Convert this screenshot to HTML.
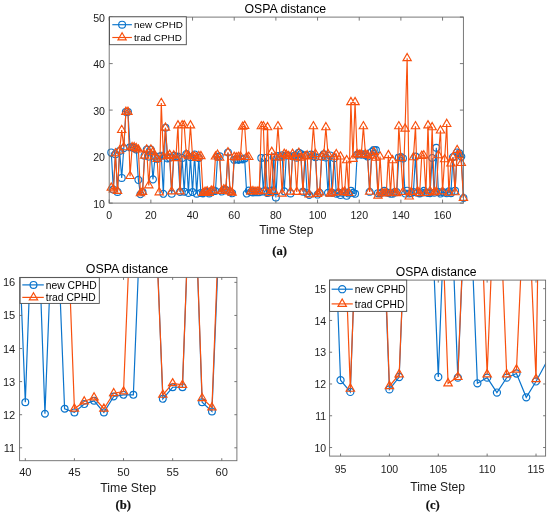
<!DOCTYPE html>
<html><head><meta charset="utf-8"><title>OSPA distance</title>
<style>
html,body{margin:0;padding:0;background:#fff;}
body{width:550px;height:515px;overflow:hidden;}
svg{display:block;font-family:"Liberation Sans",sans-serif;}
</style></head><body>
<svg width="550" height="515" viewBox="0 0 550 515">
<rect width="550" height="515" fill="#fff"/>
<clipPath id="clip1"><rect x="109.2" y="17.1" width="354.2" height="186"/></clipPath>
<polyline clip-path="url(#clip1)" fill="none" stroke="#0a74cc" stroke-width="1.15" points="111.28,152.41 113.37,189.61 115.45,154.27 117.53,191.94 119.62,151.02 121.7,177.99 123.78,148.23 125.87,111.96 127.95,111.96 130.04,147.3 132.12,147.3 134.2,148.23 136.29,149.62 138.37,179.85 140.45,194.26 142.54,191.94 144.62,155.67 146.7,149.62 148.79,156.6 150.87,149.62 152.95,179.38 155.04,156.6 157.12,158.93 159.2,156.6 161.29,155.67 163.37,193.8 165.46,127.77 167.54,158.46 169.62,157.63 171.71,193.8 173.79,155.84 175.87,156.75 177.96,156.58 180.04,191.94 182.12,157.93 184.21,191.72 186.29,153.99 188.37,192.99 190.46,157.24 192.54,192.03 194.62,154.49 196.71,193.66 198.79,158.09 200.88,192.96 202.96,193.47 205.04,192.31 207.13,191.85 209.21,193.47 211.29,191.24 213.38,191.01 215.46,191.01 217.54,156.83 219.63,156.18 221.71,191.57 223.79,189.94 225.88,189.94 227.96,152.41 230.04,192.03 232.13,193.34 234.21,159.85 236.3,159.39 238.38,159.85 240.46,158.93 242.55,159.39 244.63,158.46 246.71,193.53 248.8,190.59 250.88,192.07 252.96,192.5 255.05,191.86 257.13,192.34 259.21,192.29 261.3,158 263.38,191.43 265.46,158 267.55,193.03 269.63,191.13 271.72,190.61 273.8,157.21 275.88,197.52 277.97,155.99 280.05,156.7 282.13,155.28 284.22,191.31 286.3,155.57 288.38,155.61 290.47,193.38 292.55,156.33 294.63,155.75 296.72,157.65 298.8,152.88 300.88,154.12 302.97,191.79 305.05,155.38 307.14,193.24 309.22,194.96 311.3,154.56 313.39,156.33 315.47,157.21 317.55,194.59 319.64,192.78 321.72,156.81 323.8,154.36 325.89,157.56 327.97,192.78 330.05,155.44 332.14,192.87 334.22,158.15 336.3,193.71 338.39,192.87 340.47,195.06 342.56,192.87 344.64,192.27 346.72,195.75 348.81,193.43 350.89,190.78 352.97,192.87 355.06,193.8 357.14,154.74 359.22,154.27 361.31,154.74 363.39,154.27 365.47,155.2 367.56,156.6 369.64,191.84 371.72,151.95 373.81,150.09 375.89,150.09 377.98,193.17 380.06,193.51 382.14,192.55 384.23,190.9 386.31,192.46 388.39,192.87 390.48,193.76 392.56,193.74 394.64,192.02 396.73,192.11 398.81,157.53 400.89,157.06 402.98,158.46 405.06,193.51 407.14,190.67 409.23,193.59 411.31,193.1 413.4,192.07 415.48,156.6 417.56,192.69 419.65,193.49 421.73,192.55 423.81,190.8 425.9,192.3 427.98,193.07 430.06,193.22 432.15,158 434.23,192.71 436.31,147.76 438.4,192.1 440.48,193.59 442.56,192.11 444.65,192.59 446.73,193.33 448.82,191.27 450.9,193.18 452.98,157.06 455.07,190.89 457.15,152.41 459.23,153.34 461.32,156.6 463.4,197.98"/>
<path fill="none" stroke="#0a74cc" stroke-width="1.15" d="M107.83 152.41a3.45 3.45 0 1 0 6.9 0a3.45 3.45 0 1 0 -6.9 0zM109.92 189.61a3.45 3.45 0 1 0 6.9 0a3.45 3.45 0 1 0 -6.9 0zM112 154.27a3.45 3.45 0 1 0 6.9 0a3.45 3.45 0 1 0 -6.9 0zM114.08 191.94a3.45 3.45 0 1 0 6.9 0a3.45 3.45 0 1 0 -6.9 0zM116.17 151.02a3.45 3.45 0 1 0 6.9 0a3.45 3.45 0 1 0 -6.9 0zM118.25 177.99a3.45 3.45 0 1 0 6.9 0a3.45 3.45 0 1 0 -6.9 0zM120.33 148.23a3.45 3.45 0 1 0 6.9 0a3.45 3.45 0 1 0 -6.9 0zM122.42 111.96a3.45 3.45 0 1 0 6.9 0a3.45 3.45 0 1 0 -6.9 0zM124.5 111.96a3.45 3.45 0 1 0 6.9 0a3.45 3.45 0 1 0 -6.9 0zM126.59 147.3a3.45 3.45 0 1 0 6.9 0a3.45 3.45 0 1 0 -6.9 0zM128.67 147.3a3.45 3.45 0 1 0 6.9 0a3.45 3.45 0 1 0 -6.9 0zM130.75 148.23a3.45 3.45 0 1 0 6.9 0a3.45 3.45 0 1 0 -6.9 0zM132.84 149.62a3.45 3.45 0 1 0 6.9 0a3.45 3.45 0 1 0 -6.9 0zM134.92 179.85a3.45 3.45 0 1 0 6.9 0a3.45 3.45 0 1 0 -6.9 0zM137 194.26a3.45 3.45 0 1 0 6.9 0a3.45 3.45 0 1 0 -6.9 0zM139.09 191.94a3.45 3.45 0 1 0 6.9 0a3.45 3.45 0 1 0 -6.9 0zM141.17 155.67a3.45 3.45 0 1 0 6.9 0a3.45 3.45 0 1 0 -6.9 0zM143.25 149.62a3.45 3.45 0 1 0 6.9 0a3.45 3.45 0 1 0 -6.9 0zM145.34 156.6a3.45 3.45 0 1 0 6.9 0a3.45 3.45 0 1 0 -6.9 0zM147.42 149.62a3.45 3.45 0 1 0 6.9 0a3.45 3.45 0 1 0 -6.9 0zM149.5 179.38a3.45 3.45 0 1 0 6.9 0a3.45 3.45 0 1 0 -6.9 0zM151.59 156.6a3.45 3.45 0 1 0 6.9 0a3.45 3.45 0 1 0 -6.9 0zM153.67 158.93a3.45 3.45 0 1 0 6.9 0a3.45 3.45 0 1 0 -6.9 0zM155.75 156.6a3.45 3.45 0 1 0 6.9 0a3.45 3.45 0 1 0 -6.9 0zM157.84 155.67a3.45 3.45 0 1 0 6.9 0a3.45 3.45 0 1 0 -6.9 0zM159.92 193.8a3.45 3.45 0 1 0 6.9 0a3.45 3.45 0 1 0 -6.9 0zM162.01 127.77a3.45 3.45 0 1 0 6.9 0a3.45 3.45 0 1 0 -6.9 0zM164.09 158.46a3.45 3.45 0 1 0 6.9 0a3.45 3.45 0 1 0 -6.9 0zM166.17 157.63a3.45 3.45 0 1 0 6.9 0a3.45 3.45 0 1 0 -6.9 0zM168.26 193.8a3.45 3.45 0 1 0 6.9 0a3.45 3.45 0 1 0 -6.9 0zM170.34 155.84a3.45 3.45 0 1 0 6.9 0a3.45 3.45 0 1 0 -6.9 0zM172.42 156.75a3.45 3.45 0 1 0 6.9 0a3.45 3.45 0 1 0 -6.9 0zM174.51 156.58a3.45 3.45 0 1 0 6.9 0a3.45 3.45 0 1 0 -6.9 0zM176.59 191.94a3.45 3.45 0 1 0 6.9 0a3.45 3.45 0 1 0 -6.9 0zM178.67 157.93a3.45 3.45 0 1 0 6.9 0a3.45 3.45 0 1 0 -6.9 0zM180.76 191.72a3.45 3.45 0 1 0 6.9 0a3.45 3.45 0 1 0 -6.9 0zM182.84 153.99a3.45 3.45 0 1 0 6.9 0a3.45 3.45 0 1 0 -6.9 0zM184.92 192.99a3.45 3.45 0 1 0 6.9 0a3.45 3.45 0 1 0 -6.9 0zM187.01 157.24a3.45 3.45 0 1 0 6.9 0a3.45 3.45 0 1 0 -6.9 0zM189.09 192.03a3.45 3.45 0 1 0 6.9 0a3.45 3.45 0 1 0 -6.9 0zM191.17 154.49a3.45 3.45 0 1 0 6.9 0a3.45 3.45 0 1 0 -6.9 0zM193.26 193.66a3.45 3.45 0 1 0 6.9 0a3.45 3.45 0 1 0 -6.9 0zM195.34 158.09a3.45 3.45 0 1 0 6.9 0a3.45 3.45 0 1 0 -6.9 0zM197.43 192.96a3.45 3.45 0 1 0 6.9 0a3.45 3.45 0 1 0 -6.9 0zM199.51 193.47a3.45 3.45 0 1 0 6.9 0a3.45 3.45 0 1 0 -6.9 0zM201.59 192.31a3.45 3.45 0 1 0 6.9 0a3.45 3.45 0 1 0 -6.9 0zM203.68 191.85a3.45 3.45 0 1 0 6.9 0a3.45 3.45 0 1 0 -6.9 0zM205.76 193.47a3.45 3.45 0 1 0 6.9 0a3.45 3.45 0 1 0 -6.9 0zM207.84 191.24a3.45 3.45 0 1 0 6.9 0a3.45 3.45 0 1 0 -6.9 0zM209.93 191.01a3.45 3.45 0 1 0 6.9 0a3.45 3.45 0 1 0 -6.9 0zM212.01 191.01a3.45 3.45 0 1 0 6.9 0a3.45 3.45 0 1 0 -6.9 0zM214.09 156.83a3.45 3.45 0 1 0 6.9 0a3.45 3.45 0 1 0 -6.9 0zM216.18 156.18a3.45 3.45 0 1 0 6.9 0a3.45 3.45 0 1 0 -6.9 0zM218.26 191.57a3.45 3.45 0 1 0 6.9 0a3.45 3.45 0 1 0 -6.9 0zM220.34 189.94a3.45 3.45 0 1 0 6.9 0a3.45 3.45 0 1 0 -6.9 0zM222.43 189.94a3.45 3.45 0 1 0 6.9 0a3.45 3.45 0 1 0 -6.9 0zM224.51 152.41a3.45 3.45 0 1 0 6.9 0a3.45 3.45 0 1 0 -6.9 0zM226.59 192.03a3.45 3.45 0 1 0 6.9 0a3.45 3.45 0 1 0 -6.9 0zM228.68 193.34a3.45 3.45 0 1 0 6.9 0a3.45 3.45 0 1 0 -6.9 0zM230.76 159.85a3.45 3.45 0 1 0 6.9 0a3.45 3.45 0 1 0 -6.9 0zM232.85 159.39a3.45 3.45 0 1 0 6.9 0a3.45 3.45 0 1 0 -6.9 0zM234.93 159.85a3.45 3.45 0 1 0 6.9 0a3.45 3.45 0 1 0 -6.9 0zM237.01 158.93a3.45 3.45 0 1 0 6.9 0a3.45 3.45 0 1 0 -6.9 0zM239.1 159.39a3.45 3.45 0 1 0 6.9 0a3.45 3.45 0 1 0 -6.9 0zM241.18 158.46a3.45 3.45 0 1 0 6.9 0a3.45 3.45 0 1 0 -6.9 0zM243.26 193.53a3.45 3.45 0 1 0 6.9 0a3.45 3.45 0 1 0 -6.9 0zM245.35 190.59a3.45 3.45 0 1 0 6.9 0a3.45 3.45 0 1 0 -6.9 0zM247.43 192.07a3.45 3.45 0 1 0 6.9 0a3.45 3.45 0 1 0 -6.9 0zM249.51 192.5a3.45 3.45 0 1 0 6.9 0a3.45 3.45 0 1 0 -6.9 0zM251.6 191.86a3.45 3.45 0 1 0 6.9 0a3.45 3.45 0 1 0 -6.9 0zM253.68 192.34a3.45 3.45 0 1 0 6.9 0a3.45 3.45 0 1 0 -6.9 0zM255.76 192.29a3.45 3.45 0 1 0 6.9 0a3.45 3.45 0 1 0 -6.9 0zM257.85 158a3.45 3.45 0 1 0 6.9 0a3.45 3.45 0 1 0 -6.9 0zM259.93 191.43a3.45 3.45 0 1 0 6.9 0a3.45 3.45 0 1 0 -6.9 0zM262.01 158a3.45 3.45 0 1 0 6.9 0a3.45 3.45 0 1 0 -6.9 0zM264.1 193.03a3.45 3.45 0 1 0 6.9 0a3.45 3.45 0 1 0 -6.9 0zM266.18 191.13a3.45 3.45 0 1 0 6.9 0a3.45 3.45 0 1 0 -6.9 0zM268.27 190.61a3.45 3.45 0 1 0 6.9 0a3.45 3.45 0 1 0 -6.9 0zM270.35 157.21a3.45 3.45 0 1 0 6.9 0a3.45 3.45 0 1 0 -6.9 0zM272.43 197.52a3.45 3.45 0 1 0 6.9 0a3.45 3.45 0 1 0 -6.9 0zM274.52 155.99a3.45 3.45 0 1 0 6.9 0a3.45 3.45 0 1 0 -6.9 0zM276.6 156.7a3.45 3.45 0 1 0 6.9 0a3.45 3.45 0 1 0 -6.9 0zM278.68 155.28a3.45 3.45 0 1 0 6.9 0a3.45 3.45 0 1 0 -6.9 0zM280.77 191.31a3.45 3.45 0 1 0 6.9 0a3.45 3.45 0 1 0 -6.9 0zM282.85 155.57a3.45 3.45 0 1 0 6.9 0a3.45 3.45 0 1 0 -6.9 0zM284.93 155.61a3.45 3.45 0 1 0 6.9 0a3.45 3.45 0 1 0 -6.9 0zM287.02 193.38a3.45 3.45 0 1 0 6.9 0a3.45 3.45 0 1 0 -6.9 0zM289.1 156.33a3.45 3.45 0 1 0 6.9 0a3.45 3.45 0 1 0 -6.9 0zM291.18 155.75a3.45 3.45 0 1 0 6.9 0a3.45 3.45 0 1 0 -6.9 0zM293.27 157.65a3.45 3.45 0 1 0 6.9 0a3.45 3.45 0 1 0 -6.9 0zM295.35 152.88a3.45 3.45 0 1 0 6.9 0a3.45 3.45 0 1 0 -6.9 0zM297.43 154.12a3.45 3.45 0 1 0 6.9 0a3.45 3.45 0 1 0 -6.9 0zM299.52 191.79a3.45 3.45 0 1 0 6.9 0a3.45 3.45 0 1 0 -6.9 0zM301.6 155.38a3.45 3.45 0 1 0 6.9 0a3.45 3.45 0 1 0 -6.9 0zM303.69 193.24a3.45 3.45 0 1 0 6.9 0a3.45 3.45 0 1 0 -6.9 0zM305.77 194.96a3.45 3.45 0 1 0 6.9 0a3.45 3.45 0 1 0 -6.9 0zM307.85 154.56a3.45 3.45 0 1 0 6.9 0a3.45 3.45 0 1 0 -6.9 0zM309.94 156.33a3.45 3.45 0 1 0 6.9 0a3.45 3.45 0 1 0 -6.9 0zM312.02 157.21a3.45 3.45 0 1 0 6.9 0a3.45 3.45 0 1 0 -6.9 0zM314.1 194.59a3.45 3.45 0 1 0 6.9 0a3.45 3.45 0 1 0 -6.9 0zM316.19 192.78a3.45 3.45 0 1 0 6.9 0a3.45 3.45 0 1 0 -6.9 0zM318.27 156.81a3.45 3.45 0 1 0 6.9 0a3.45 3.45 0 1 0 -6.9 0zM320.35 154.36a3.45 3.45 0 1 0 6.9 0a3.45 3.45 0 1 0 -6.9 0zM322.44 157.56a3.45 3.45 0 1 0 6.9 0a3.45 3.45 0 1 0 -6.9 0zM324.52 192.78a3.45 3.45 0 1 0 6.9 0a3.45 3.45 0 1 0 -6.9 0zM326.6 155.44a3.45 3.45 0 1 0 6.9 0a3.45 3.45 0 1 0 -6.9 0zM328.69 192.87a3.45 3.45 0 1 0 6.9 0a3.45 3.45 0 1 0 -6.9 0zM330.77 158.15a3.45 3.45 0 1 0 6.9 0a3.45 3.45 0 1 0 -6.9 0zM332.85 193.71a3.45 3.45 0 1 0 6.9 0a3.45 3.45 0 1 0 -6.9 0zM334.94 192.87a3.45 3.45 0 1 0 6.9 0a3.45 3.45 0 1 0 -6.9 0zM337.02 195.06a3.45 3.45 0 1 0 6.9 0a3.45 3.45 0 1 0 -6.9 0zM339.11 192.87a3.45 3.45 0 1 0 6.9 0a3.45 3.45 0 1 0 -6.9 0zM341.19 192.27a3.45 3.45 0 1 0 6.9 0a3.45 3.45 0 1 0 -6.9 0zM343.27 195.75a3.45 3.45 0 1 0 6.9 0a3.45 3.45 0 1 0 -6.9 0zM345.36 193.43a3.45 3.45 0 1 0 6.9 0a3.45 3.45 0 1 0 -6.9 0zM347.44 190.78a3.45 3.45 0 1 0 6.9 0a3.45 3.45 0 1 0 -6.9 0zM349.52 192.87a3.45 3.45 0 1 0 6.9 0a3.45 3.45 0 1 0 -6.9 0zM351.61 193.8a3.45 3.45 0 1 0 6.9 0a3.45 3.45 0 1 0 -6.9 0zM353.69 154.74a3.45 3.45 0 1 0 6.9 0a3.45 3.45 0 1 0 -6.9 0zM355.77 154.27a3.45 3.45 0 1 0 6.9 0a3.45 3.45 0 1 0 -6.9 0zM357.86 154.74a3.45 3.45 0 1 0 6.9 0a3.45 3.45 0 1 0 -6.9 0zM359.94 154.27a3.45 3.45 0 1 0 6.9 0a3.45 3.45 0 1 0 -6.9 0zM362.02 155.2a3.45 3.45 0 1 0 6.9 0a3.45 3.45 0 1 0 -6.9 0zM364.11 156.6a3.45 3.45 0 1 0 6.9 0a3.45 3.45 0 1 0 -6.9 0zM366.19 191.84a3.45 3.45 0 1 0 6.9 0a3.45 3.45 0 1 0 -6.9 0zM368.27 151.95a3.45 3.45 0 1 0 6.9 0a3.45 3.45 0 1 0 -6.9 0zM370.36 150.09a3.45 3.45 0 1 0 6.9 0a3.45 3.45 0 1 0 -6.9 0zM372.44 150.09a3.45 3.45 0 1 0 6.9 0a3.45 3.45 0 1 0 -6.9 0zM374.53 193.17a3.45 3.45 0 1 0 6.9 0a3.45 3.45 0 1 0 -6.9 0zM376.61 193.51a3.45 3.45 0 1 0 6.9 0a3.45 3.45 0 1 0 -6.9 0zM378.69 192.55a3.45 3.45 0 1 0 6.9 0a3.45 3.45 0 1 0 -6.9 0zM380.78 190.9a3.45 3.45 0 1 0 6.9 0a3.45 3.45 0 1 0 -6.9 0zM382.86 192.46a3.45 3.45 0 1 0 6.9 0a3.45 3.45 0 1 0 -6.9 0zM384.94 192.87a3.45 3.45 0 1 0 6.9 0a3.45 3.45 0 1 0 -6.9 0zM387.03 193.76a3.45 3.45 0 1 0 6.9 0a3.45 3.45 0 1 0 -6.9 0zM389.11 193.74a3.45 3.45 0 1 0 6.9 0a3.45 3.45 0 1 0 -6.9 0zM391.19 192.02a3.45 3.45 0 1 0 6.9 0a3.45 3.45 0 1 0 -6.9 0zM393.28 192.11a3.45 3.45 0 1 0 6.9 0a3.45 3.45 0 1 0 -6.9 0zM395.36 157.53a3.45 3.45 0 1 0 6.9 0a3.45 3.45 0 1 0 -6.9 0zM397.44 157.06a3.45 3.45 0 1 0 6.9 0a3.45 3.45 0 1 0 -6.9 0zM399.53 158.46a3.45 3.45 0 1 0 6.9 0a3.45 3.45 0 1 0 -6.9 0zM401.61 193.51a3.45 3.45 0 1 0 6.9 0a3.45 3.45 0 1 0 -6.9 0zM403.69 190.67a3.45 3.45 0 1 0 6.9 0a3.45 3.45 0 1 0 -6.9 0zM405.78 193.59a3.45 3.45 0 1 0 6.9 0a3.45 3.45 0 1 0 -6.9 0zM407.86 193.1a3.45 3.45 0 1 0 6.9 0a3.45 3.45 0 1 0 -6.9 0zM409.95 192.07a3.45 3.45 0 1 0 6.9 0a3.45 3.45 0 1 0 -6.9 0zM412.03 156.6a3.45 3.45 0 1 0 6.9 0a3.45 3.45 0 1 0 -6.9 0zM414.11 192.69a3.45 3.45 0 1 0 6.9 0a3.45 3.45 0 1 0 -6.9 0zM416.2 193.49a3.45 3.45 0 1 0 6.9 0a3.45 3.45 0 1 0 -6.9 0zM418.28 192.55a3.45 3.45 0 1 0 6.9 0a3.45 3.45 0 1 0 -6.9 0zM420.36 190.8a3.45 3.45 0 1 0 6.9 0a3.45 3.45 0 1 0 -6.9 0zM422.45 192.3a3.45 3.45 0 1 0 6.9 0a3.45 3.45 0 1 0 -6.9 0zM424.53 193.07a3.45 3.45 0 1 0 6.9 0a3.45 3.45 0 1 0 -6.9 0zM426.61 193.22a3.45 3.45 0 1 0 6.9 0a3.45 3.45 0 1 0 -6.9 0zM428.7 158a3.45 3.45 0 1 0 6.9 0a3.45 3.45 0 1 0 -6.9 0zM430.78 192.71a3.45 3.45 0 1 0 6.9 0a3.45 3.45 0 1 0 -6.9 0zM432.86 147.76a3.45 3.45 0 1 0 6.9 0a3.45 3.45 0 1 0 -6.9 0zM434.95 192.1a3.45 3.45 0 1 0 6.9 0a3.45 3.45 0 1 0 -6.9 0zM437.03 193.59a3.45 3.45 0 1 0 6.9 0a3.45 3.45 0 1 0 -6.9 0zM439.11 192.11a3.45 3.45 0 1 0 6.9 0a3.45 3.45 0 1 0 -6.9 0zM441.2 192.59a3.45 3.45 0 1 0 6.9 0a3.45 3.45 0 1 0 -6.9 0zM443.28 193.33a3.45 3.45 0 1 0 6.9 0a3.45 3.45 0 1 0 -6.9 0zM445.37 191.27a3.45 3.45 0 1 0 6.9 0a3.45 3.45 0 1 0 -6.9 0zM447.45 193.18a3.45 3.45 0 1 0 6.9 0a3.45 3.45 0 1 0 -6.9 0zM449.53 157.06a3.45 3.45 0 1 0 6.9 0a3.45 3.45 0 1 0 -6.9 0zM451.62 190.89a3.45 3.45 0 1 0 6.9 0a3.45 3.45 0 1 0 -6.9 0zM453.7 152.41a3.45 3.45 0 1 0 6.9 0a3.45 3.45 0 1 0 -6.9 0zM455.78 153.34a3.45 3.45 0 1 0 6.9 0a3.45 3.45 0 1 0 -6.9 0zM457.87 156.6a3.45 3.45 0 1 0 6.9 0a3.45 3.45 0 1 0 -6.9 0zM459.95 197.98a3.45 3.45 0 1 0 6.9 0a3.45 3.45 0 1 0 -6.9 0z"/>
<polyline clip-path="url(#clip1)" fill="none" stroke="#f8500e" stroke-width="1.15" points="111.28,187.75 113.37,189.61 115.45,153.34 117.53,191.01 119.62,150.55 121.7,130.09 123.78,147.3 125.87,111.96 127.95,111.96 130.04,176.13 132.12,147.3 134.2,147.3 136.29,148.23 138.37,149.62 140.45,193.34 142.54,191.94 144.62,155.67 146.7,149.62 148.79,185.43 150.87,149.62 152.95,151.95 155.04,156.6 157.12,158.93 159.2,192.41 161.29,103.12 163.37,156.6 165.46,127.77 167.54,155.93 169.62,154.89 171.71,191.47 173.79,155.53 175.87,158.29 177.96,125.44 180.04,191.47 182.12,125.44 184.21,125.44 186.29,154.69 188.37,156.31 190.46,125.44 192.54,156.47 194.62,156.51 196.71,158 198.79,156.13 200.88,156.19 202.96,192.96 205.04,191.94 207.13,191.38 209.21,192.96 211.29,190.78 213.38,190.54 215.46,156.62 217.54,154.74 219.63,157.86 221.71,191.01 223.79,189.38 225.88,189.61 227.96,152.41 230.04,191.47 232.13,192.78 234.21,157.06 236.3,157.53 238.38,157.06 240.46,156.6 242.55,126.84 244.63,125.91 246.71,157.06 248.8,157.06 250.88,191.46 252.96,191.23 255.05,191.8 257.13,191.62 259.21,191.21 261.3,126.38 263.38,126.38 265.46,190.8 267.55,127.3 269.63,193.2 271.72,151.95 273.8,190.94 275.88,157.33 277.97,126.38 280.05,157.61 282.13,193.71 284.22,153.91 286.3,154.75 288.38,156.11 290.47,191.67 292.55,153.96 294.63,156.95 296.72,191.94 298.8,152.88 300.88,157.81 302.97,191.66 305.05,156.41 307.14,155.56 309.22,194.5 311.3,156.31 313.39,126.38 315.47,154.07 317.55,194.13 319.64,192.41 321.72,156.81 323.8,154.33 325.89,127.3 327.97,154.2 330.05,193.71 332.14,192.78 334.22,156.89 336.3,154.32 338.39,192.41 340.47,156.6 342.56,192.41 344.64,191.71 346.72,160.32 348.81,193.1 350.89,102.19 352.97,158.93 355.06,102.19 357.14,154.27 359.22,154.74 361.31,154.27 363.39,126.38 365.47,154.27 367.56,155.2 369.64,191.85 371.72,155.78 373.81,151.95 375.89,157.88 377.98,195.66 380.06,156.61 382.14,193.61 384.23,193.52 386.31,192.92 388.39,155.2 390.48,193.25 392.56,160.32 394.64,192.59 396.73,193.2 398.81,126.38 400.89,158 402.98,191.97 405.06,128.7 407.14,58.25 409.23,196.59 411.31,191.98 413.4,157.36 415.48,126.38 417.56,191.3 419.65,193.25 421.73,155.93 423.81,155.5 425.9,193.11 427.98,125.44 430.06,191.29 432.15,127.3 434.23,192.42 436.31,191.64 438.4,155.3 440.48,130.56 442.56,191.47 444.65,159.39 446.73,124.05 448.82,192.88 450.9,163.57 452.98,157.53 455.07,192.39 457.15,150.09 459.23,155.2 461.32,163.11 463.4,197.98"/>
<path fill="none" stroke="#f8500e" stroke-width="1.15" d="M111.28 182.95L115.43 190.16L107.13 190.16zM113.37 184.81L117.52 192.01L109.22 192.01zM115.45 148.54L119.6 155.75L111.3 155.75zM117.53 186.21L121.68 193.41L113.38 193.41zM119.62 145.75L123.77 152.95L115.47 152.95zM121.7 125.3L125.85 132.5L117.55 132.5zM123.78 142.5L127.93 149.7L119.63 149.7zM125.87 107.16L130.02 114.36L121.72 114.36zM127.95 107.16L132.1 114.36L123.8 114.36zM130.04 171.33L134.19 178.53L125.89 178.53zM132.12 142.5L136.27 149.7L127.97 149.7zM134.2 142.5L138.35 149.7L130.05 149.7zM136.29 143.43L140.44 150.63L132.14 150.63zM138.37 144.82L142.52 152.03L134.22 152.03zM140.45 188.53L144.6 195.74L136.3 195.74zM142.54 187.14L146.69 194.34L138.39 194.34zM144.62 150.87L148.77 158.07L140.47 158.07zM146.7 144.82L150.85 152.03L142.55 152.03zM148.79 180.63L152.94 187.83L144.64 187.83zM150.87 144.82L155.02 152.03L146.72 152.03zM152.95 147.15L157.1 154.35L148.8 154.35zM155.04 151.8L159.19 159L150.89 159zM157.12 154.12L161.27 161.33L152.97 161.33zM159.2 187.6L163.35 194.81L155.05 194.81zM161.29 98.33L165.44 105.53L157.14 105.53zM163.37 151.8L167.52 159L159.22 159zM165.46 122.97L169.61 130.17L161.31 130.17zM167.54 151.13L171.69 158.33L163.39 158.33zM169.62 150.09L173.77 157.29L165.47 157.29zM171.71 186.67L175.86 193.88L167.56 193.88zM173.79 150.73L177.94 157.93L169.64 157.93zM175.87 153.49L180.02 160.69L171.72 160.69zM177.96 120.64L182.11 127.84L173.81 127.84zM180.04 186.67L184.19 193.88L175.89 193.88zM182.12 120.64L186.27 127.84L177.97 127.84zM184.21 120.64L188.36 127.84L180.06 127.84zM186.29 149.89L190.44 157.09L182.14 157.09zM188.37 151.51L192.52 158.71L184.22 158.71zM190.46 120.64L194.61 127.84L186.31 127.84zM192.54 151.67L196.69 158.87L188.39 158.87zM194.62 151.71L198.77 158.91L190.47 158.91zM196.71 153.2L200.86 160.4L192.56 160.4zM198.79 151.33L202.94 158.53L194.64 158.53zM200.88 151.39L205.03 158.59L196.73 158.59zM202.96 188.16L207.11 195.36L198.81 195.36zM205.04 187.14L209.19 194.34L200.89 194.34zM207.13 186.58L211.28 193.78L202.98 193.78zM209.21 188.16L213.36 195.36L205.06 195.36zM211.29 185.98L215.44 193.18L207.14 193.18zM213.38 185.74L217.53 192.94L209.23 192.94zM215.46 151.82L219.61 159.02L211.31 159.02zM217.54 149.94L221.69 157.14L213.39 157.14zM219.63 153.06L223.78 160.26L215.48 160.26zM221.71 186.21L225.86 193.41L217.56 193.41zM223.79 184.58L227.94 191.78L219.64 191.78zM225.88 184.81L230.03 192.01L221.73 192.01zM227.96 147.61L232.11 154.81L223.81 154.81zM230.04 186.67L234.19 193.88L225.89 193.88zM232.13 187.98L236.28 195.18L227.98 195.18zM234.21 152.26L238.36 159.47L230.06 159.47zM236.3 152.73L240.45 159.93L232.15 159.93zM238.38 152.26L242.53 159.47L234.23 159.47zM240.46 151.8L244.61 159L236.31 159zM242.55 122.04L246.7 129.24L238.4 129.24zM244.63 121.11L248.78 128.31L240.48 128.31zM246.71 152.26L250.86 159.47L242.56 159.47zM248.8 152.26L252.95 159.47L244.65 159.47zM250.88 186.66L255.03 193.86L246.73 193.86zM252.96 186.43L257.11 193.63L248.81 193.63zM255.05 187L259.2 194.2L250.9 194.2zM257.13 186.82L261.28 194.02L252.98 194.02zM259.21 186.41L263.36 193.61L255.06 193.61zM261.3 121.58L265.45 128.78L257.15 128.78zM263.38 121.58L267.53 128.78L259.23 128.78zM265.46 186L269.61 193.2L261.31 193.2zM267.55 122.5L271.7 129.7L263.4 129.7zM269.63 188.4L273.78 195.6L265.48 195.6zM271.72 147.15L275.87 154.35L267.57 154.35zM273.8 186.14L277.95 193.34L269.65 193.34zM275.88 152.53L280.03 159.73L271.73 159.73zM277.97 121.58L282.12 128.78L273.82 128.78zM280.05 152.81L284.2 160.01L275.9 160.01zM282.13 188.91L286.28 196.11L277.98 196.11zM284.22 149.11L288.37 156.31L280.07 156.31zM286.3 149.95L290.45 157.15L282.15 157.15zM288.38 151.31L292.53 158.51L284.23 158.51zM290.47 186.87L294.62 194.07L286.32 194.07zM292.55 149.16L296.7 156.36L288.4 156.36zM294.63 152.15L298.78 159.35L290.48 159.35zM296.72 187.14L300.87 194.34L292.57 194.34zM298.8 148.08L302.95 155.28L294.65 155.28zM300.88 153.01L305.03 160.21L296.73 160.21zM302.97 186.86L307.12 194.06L298.82 194.06zM305.05 151.61L309.2 158.81L300.9 158.81zM307.14 150.76L311.29 157.96L302.99 157.96zM309.22 189.7L313.37 196.9L305.07 196.9zM311.3 151.51L315.45 158.71L307.15 158.71zM313.39 121.58L317.54 128.78L309.24 128.78zM315.47 149.27L319.62 156.47L311.32 156.47zM317.55 189.33L321.7 196.53L313.4 196.53zM319.64 187.6L323.79 194.81L315.49 194.81zM321.72 152.01L325.87 159.21L317.57 159.21zM323.8 149.53L327.95 156.73L319.65 156.73zM325.89 122.5L330.04 129.7L321.74 129.7zM327.97 149.4L332.12 156.6L323.82 156.6zM330.05 188.91L334.2 196.11L325.9 196.11zM332.14 187.98L336.29 195.18L327.99 195.18zM334.22 152.09L338.37 159.29L330.07 159.29zM336.3 149.52L340.45 156.72L332.15 156.72zM338.39 187.6L342.54 194.81L334.24 194.81zM340.47 151.8L344.62 159L336.32 159zM342.56 187.6L346.71 194.81L338.41 194.81zM344.64 186.91L348.79 194.11L340.49 194.11zM346.72 155.52L350.87 162.72L342.57 162.72zM348.81 188.3L352.96 195.5L344.66 195.5zM350.89 97.39L355.04 104.59L346.74 104.59zM352.97 154.12L357.12 161.33L348.82 161.33zM355.06 97.39L359.21 104.59L350.91 104.59zM357.14 149.47L361.29 156.67L352.99 156.67zM359.22 149.94L363.37 157.14L355.07 157.14zM361.31 149.47L365.46 156.67L357.16 156.67zM363.39 121.58L367.54 128.78L359.24 128.78zM365.47 149.47L369.62 156.67L361.32 156.67zM367.56 150.4L371.71 157.6L363.41 157.6zM369.64 187.05L373.79 194.25L365.49 194.25zM371.72 150.98L375.87 158.18L367.57 158.18zM373.81 147.15L377.96 154.35L369.66 154.35zM375.89 153.08L380.04 160.28L371.74 160.28zM377.98 190.86L382.13 198.06L373.83 198.06zM380.06 151.81L384.21 159.01L375.91 159.01zM382.14 188.81L386.29 196.01L377.99 196.01zM384.23 188.72L388.38 195.92L380.08 195.92zM386.31 188.12L390.46 195.32L382.16 195.32zM388.39 150.4L392.54 157.6L384.24 157.6zM390.48 188.45L394.63 195.65L386.33 195.65zM392.56 155.52L396.71 162.72L388.41 162.72zM394.64 187.79L398.79 194.99L390.49 194.99zM396.73 188.4L400.88 195.6L392.58 195.6zM398.81 121.58L402.96 128.78L394.66 128.78zM400.89 153.19L405.04 160.4L396.74 160.4zM402.98 187.17L407.13 194.37L398.83 194.37zM405.06 123.9L409.21 131.1L400.91 131.1zM407.14 53.45L411.29 60.65L402.99 60.65zM409.23 191.79L413.38 198.99L405.08 198.99zM411.31 187.18L415.46 194.38L407.16 194.38zM413.4 152.56L417.55 159.76L409.25 159.76zM415.48 121.58L419.63 128.78L411.33 128.78zM417.56 186.5L421.71 193.7L413.41 193.7zM419.65 188.45L423.8 195.65L415.5 195.65zM421.73 151.13L425.88 158.33L417.58 158.33zM423.81 150.7L427.96 157.9L419.66 157.9zM425.9 188.31L430.05 195.51L421.75 195.51zM427.98 120.64L432.13 127.84L423.83 127.84zM430.06 186.49L434.21 193.69L425.91 193.69zM432.15 122.5L436.3 129.7L428 129.7zM434.23 187.62L438.38 194.82L430.08 194.82zM436.31 186.84L440.46 194.04L432.16 194.04zM438.4 150.5L442.55 157.7L434.25 157.7zM440.48 125.76L444.63 132.96L436.33 132.96zM442.56 186.67L446.71 193.87L438.41 193.87zM444.65 154.59L448.8 161.79L440.5 161.79zM446.73 119.25L450.88 126.45L442.58 126.45zM448.82 188.08L452.97 195.28L444.67 195.28zM450.9 158.77L455.05 165.97L446.75 165.97zM452.98 152.73L457.13 159.93L448.83 159.93zM455.07 187.59L459.22 194.79L450.92 194.79zM457.15 145.29L461.3 152.49L453 152.49zM459.23 150.4L463.38 157.6L455.08 157.6zM461.32 158.31L465.47 165.51L457.17 165.51zM463.4 193.18L467.55 200.38L459.25 200.38z"/>
<rect x="109.2" y="17.1" width="354.2" height="186" fill="none" stroke="#6a6a6a" stroke-width="0.9"/>
<path d="M109.2 203.1v-3.5 M109.2 17.1v3.5 M150.87 203.1v-3.5 M150.87 17.1v3.5 M192.54 203.1v-3.5 M192.54 17.1v3.5 M234.21 203.1v-3.5 M234.21 17.1v3.5 M275.88 203.1v-3.5 M275.88 17.1v3.5 M317.55 203.1v-3.5 M317.55 17.1v3.5 M359.22 203.1v-3.5 M359.22 17.1v3.5 M400.89 203.1v-3.5 M400.89 17.1v3.5 M442.56 203.1v-3.5 M442.56 17.1v3.5 M109.2 203.1h3.5 M463.4 203.1h-3.5 M109.2 156.6h3.5 M463.4 156.6h-3.5 M109.2 110.1h3.5 M463.4 110.1h-3.5 M109.2 63.6h3.5 M463.4 63.6h-3.5 M109.2 17.1h3.5 M463.4 17.1h-3.5" stroke="#6a6a6a" stroke-width="0.9" fill="none"/>
<text x="109.2" y="218.8" font-size="10.6" text-anchor="middle" fill="#1c1c1c">0</text>
<text x="150.87" y="218.8" font-size="10.6" text-anchor="middle" fill="#1c1c1c">20</text>
<text x="192.54" y="218.8" font-size="10.6" text-anchor="middle" fill="#1c1c1c">40</text>
<text x="234.21" y="218.8" font-size="10.6" text-anchor="middle" fill="#1c1c1c">60</text>
<text x="275.88" y="218.8" font-size="10.6" text-anchor="middle" fill="#1c1c1c">80</text>
<text x="317.55" y="218.8" font-size="10.6" text-anchor="middle" fill="#1c1c1c">100</text>
<text x="359.22" y="218.8" font-size="10.6" text-anchor="middle" fill="#1c1c1c">120</text>
<text x="400.89" y="218.8" font-size="10.6" text-anchor="middle" fill="#1c1c1c">140</text>
<text x="442.56" y="218.8" font-size="10.6" text-anchor="middle" fill="#1c1c1c">160</text>
<text x="105" y="207.82" font-size="10.6" text-anchor="end" fill="#1c1c1c">10</text>
<text x="105" y="161.32" font-size="10.6" text-anchor="end" fill="#1c1c1c">20</text>
<text x="105" y="114.82" font-size="10.6" text-anchor="end" fill="#1c1c1c">30</text>
<text x="105" y="68.32" font-size="10.6" text-anchor="end" fill="#1c1c1c">40</text>
<text x="105" y="21.82" font-size="10.6" text-anchor="end" fill="#1c1c1c">50</text>
<text x="285.3" y="13.4" font-size="12.3" text-anchor="middle" fill="#000">OSPA distance</text>
<text x="286.3" y="233.8" font-size="12" text-anchor="middle" fill="#1c1c1c">Time Step</text>
<rect x="109.5" y="16.8" width="76.8" height="27.9" fill="#fff" stroke="#4a4a4a" stroke-width="0.9"/>
<path d="M112.3 24.7H131.9" stroke="#0a74cc" stroke-width="1.15"/>
<path d="M112.3 37.5H131.9" stroke="#f8500e" stroke-width="1.15"/>
<circle cx="122.1" cy="24.7" r="3.45" fill="none" stroke="#0a74cc" stroke-width="1.15"/>
<path d="M122.1 32.7L126.25 39.9L117.95 39.9z" fill="none" stroke="#f8500e" stroke-width="1.15"/>
<text x="134.1" y="28.26" font-size="9.9" text-anchor="start" fill="#000">new CPHD</text>
<text x="134.1" y="41.06" font-size="9.9" text-anchor="start" fill="#000">trad CPHD</text>
<clipPath id="clip2"><rect x="19.6" y="277.4" width="217.3" height="183.3"/></clipPath>
<polyline clip-path="url(#clip2)" fill="none" stroke="#0a74cc" stroke-width="1.2" points="5.65,408.95 15.47,154.58 25.3,402.14 35.12,135 44.95,413.72 54.77,160.61 64.59,408.75 74.42,412.39 84.24,404.12 94.06,400.81 103.89,412.39 113.71,396.51 123.53,394.86 133.36,394.86 143.18,151.63 153.01,147 162.83,398.83 172.65,387.25 182.48,387.25 192.3,120.24 202.12,402.14 211.95,411.4 221.77,173.18 231.6,169.87 241.42,173.18 251.24,166.56"/>
<path fill="none" stroke="#0a74cc" stroke-width="1.2" d="M21.9 402.14a3.4 3.4 0 1 0 6.8 0a3.4 3.4 0 1 0 -6.8 0zM41.55 413.72a3.4 3.4 0 1 0 6.8 0a3.4 3.4 0 1 0 -6.8 0zM61.19 408.75a3.4 3.4 0 1 0 6.8 0a3.4 3.4 0 1 0 -6.8 0zM71.02 412.39a3.4 3.4 0 1 0 6.8 0a3.4 3.4 0 1 0 -6.8 0zM80.84 404.12a3.4 3.4 0 1 0 6.8 0a3.4 3.4 0 1 0 -6.8 0zM90.66 400.81a3.4 3.4 0 1 0 6.8 0a3.4 3.4 0 1 0 -6.8 0zM100.49 412.39a3.4 3.4 0 1 0 6.8 0a3.4 3.4 0 1 0 -6.8 0zM110.31 396.51a3.4 3.4 0 1 0 6.8 0a3.4 3.4 0 1 0 -6.8 0zM120.13 394.86a3.4 3.4 0 1 0 6.8 0a3.4 3.4 0 1 0 -6.8 0zM129.96 394.86a3.4 3.4 0 1 0 6.8 0a3.4 3.4 0 1 0 -6.8 0zM159.43 398.83a3.4 3.4 0 1 0 6.8 0a3.4 3.4 0 1 0 -6.8 0zM169.25 387.25a3.4 3.4 0 1 0 6.8 0a3.4 3.4 0 1 0 -6.8 0zM179.08 387.25a3.4 3.4 0 1 0 6.8 0a3.4 3.4 0 1 0 -6.8 0zM198.72 402.14a3.4 3.4 0 1 0 6.8 0a3.4 3.4 0 1 0 -6.8 0zM208.55 411.4a3.4 3.4 0 1 0 6.8 0a3.4 3.4 0 1 0 -6.8 0z"/>
<polyline clip-path="url(#clip2)" fill="none" stroke="#f8500e" stroke-width="1.2" points="5.65,147.95 15.47,-71.66 25.3,149.1 35.12,149.38 44.95,160 54.77,146.69 64.59,147.1 74.42,408.75 84.24,401.47 94.06,397.5 103.89,408.75 113.71,393.2 123.53,391.55 133.36,150.12 143.18,136.78 153.01,159 162.83,394.86 172.65,383.28 182.48,384.93 192.3,120.24 202.12,398.17 211.95,407.43 221.77,153.33 231.6,156.63 241.42,153.33 251.24,150.02"/>
<path fill="none" stroke="#f8500e" stroke-width="1.2" d="M74.42 404.05L78.57 411.15L70.27 411.15zM84.24 396.77L88.39 403.87L80.09 403.87zM94.06 392.8L98.21 399.9L89.91 399.9zM103.89 404.05L108.04 411.15L99.74 411.15zM113.71 388.5L117.86 395.6L109.56 395.6zM123.53 386.85L127.68 393.95L119.38 393.95zM162.83 390.16L166.98 397.26L158.68 397.26zM172.65 378.58L176.8 385.68L168.5 385.68zM182.48 380.23L186.63 387.33L178.33 387.33zM202.12 393.47L206.27 400.57L197.97 400.57zM211.95 402.73L216.1 409.83L207.8 409.83z"/>
<rect x="19.6" y="277.4" width="217.3" height="183.3" fill="none" stroke="#6a6a6a" stroke-width="0.9"/>
<path d="M25.3 460.7v-2.5 M25.3 277.4v2.5 M74.42 460.7v-2.5 M74.42 277.4v2.5 M123.53 460.7v-2.5 M123.53 277.4v2.5 M172.65 460.7v-2.5 M172.65 277.4v2.5 M221.77 460.7v-2.5 M221.77 277.4v2.5 M19.6 447.8h2.5 M236.9 447.8h-2.5 M19.6 414.71h2.5 M236.9 414.71h-2.5 M19.6 381.62h2.5 M236.9 381.62h-2.5 M19.6 348.54h2.5 M236.9 348.54h-2.5 M19.6 315.45h2.5 M236.9 315.45h-2.5 M19.6 282.36h2.5 M236.9 282.36h-2.5" stroke="#6a6a6a" stroke-width="0.9" fill="none"/>
<text x="25.3" y="476" font-size="11.1" text-anchor="middle" fill="#1c1c1c">40</text>
<text x="74.42" y="476" font-size="11.1" text-anchor="middle" fill="#1c1c1c">45</text>
<text x="123.53" y="476" font-size="11.1" text-anchor="middle" fill="#1c1c1c">50</text>
<text x="172.65" y="476" font-size="11.1" text-anchor="middle" fill="#1c1c1c">55</text>
<text x="221.77" y="476" font-size="11.1" text-anchor="middle" fill="#1c1c1c">60</text>
<text x="15.3" y="451.79" font-size="11.1" text-anchor="end" fill="#1c1c1c">11</text>
<text x="15.3" y="418.71" font-size="11.1" text-anchor="end" fill="#1c1c1c">12</text>
<text x="15.3" y="385.62" font-size="11.1" text-anchor="end" fill="#1c1c1c">13</text>
<text x="15.3" y="352.53" font-size="11.1" text-anchor="end" fill="#1c1c1c">14</text>
<text x="15.3" y="319.45" font-size="11.1" text-anchor="end" fill="#1c1c1c">15</text>
<text x="15.3" y="286.36" font-size="11.1" text-anchor="end" fill="#1c1c1c">16</text>
<text x="127.05" y="273.3" font-size="12.4" text-anchor="middle" fill="#000">OSPA distance</text>
<text x="128.25" y="492" font-size="12.4" text-anchor="middle" fill="#1c1c1c">Time Step</text>
<rect x="20.1" y="277.6" width="79.2" height="25.8" fill="#fff" stroke="#4a4a4a" stroke-width="0.9"/>
<path d="M22.3 284.9H43.8" stroke="#0a74cc" stroke-width="1.2"/>
<path d="M22.3 297.4H43.8" stroke="#f8500e" stroke-width="1.2"/>
<circle cx="33.5" cy="284.9" r="3.4" fill="none" stroke="#0a74cc" stroke-width="1.2"/>
<path d="M33.5 292.7L37.65 299.8L29.35 299.8z" fill="none" stroke="#f8500e" stroke-width="1.2"/>
<text x="45.8" y="288.61" font-size="10.3" text-anchor="start" fill="#000">new CPHD</text>
<text x="45.8" y="301.11" font-size="10.3" text-anchor="start" fill="#000">trad CPHD</text>
<clipPath id="clip3"><rect x="329.6" y="280.1" width="216" height="176"/></clipPath>
<polyline clip-path="url(#clip3)" fill="none" stroke="#0a74cc" stroke-width="1.2" points="311.23,112.86 321,370.23 330.77,121.49 340.55,380.17 350.32,391.93 360.09,115.89 369.87,127.97 379.64,134.02 389.42,389.39 399.19,377 408.96,131.26 418.74,114.55 428.51,136.4 438.28,377 448.06,121.91 457.83,377.63 467.61,140.4 477.38,383.35 487.15,377.63 496.93,392.56 506.7,377.63 516.47,373.5 526.25,397.33 536.02,381.44 545.8,363.33 555.57,377.63"/>
<path fill="none" stroke="#0a74cc" stroke-width="1.2" d="M337 380.17a3.55 3.55 0 1 0 7.1 0a3.55 3.55 0 1 0 -7.1 0zM346.77 391.93a3.55 3.55 0 1 0 7.1 0a3.55 3.55 0 1 0 -7.1 0zM385.87 389.39a3.55 3.55 0 1 0 7.1 0a3.55 3.55 0 1 0 -7.1 0zM395.64 377a3.55 3.55 0 1 0 7.1 0a3.55 3.55 0 1 0 -7.1 0zM434.73 377a3.55 3.55 0 1 0 7.1 0a3.55 3.55 0 1 0 -7.1 0zM454.28 377.63a3.55 3.55 0 1 0 7.1 0a3.55 3.55 0 1 0 -7.1 0zM473.83 383.35a3.55 3.55 0 1 0 7.1 0a3.55 3.55 0 1 0 -7.1 0zM483.6 377.63a3.55 3.55 0 1 0 7.1 0a3.55 3.55 0 1 0 -7.1 0zM493.38 392.56a3.55 3.55 0 1 0 7.1 0a3.55 3.55 0 1 0 -7.1 0zM503.15 377.63a3.55 3.55 0 1 0 7.1 0a3.55 3.55 0 1 0 -7.1 0zM512.92 373.5a3.55 3.55 0 1 0 7.1 0a3.55 3.55 0 1 0 -7.1 0zM522.7 397.33a3.55 3.55 0 1 0 7.1 0a3.55 3.55 0 1 0 -7.1 0zM532.47 381.44a3.55 3.55 0 1 0 7.1 0a3.55 3.55 0 1 0 -7.1 0z"/>
<polyline clip-path="url(#clip3)" fill="none" stroke="#f8500e" stroke-width="1.2" points="311.23,138.11 321,369.35 330.77,128.54 340.55,122.76 350.32,388.75 360.09,127.85 369.87,-76.67 379.64,112.57 389.42,386.21 399.19,374.45 408.96,131.3 418.74,114.29 428.51,-70.31 438.28,113.47 448.06,383.35 457.83,377 467.61,131.84 477.38,114.22 487.15,374.45 496.93,129.83 506.7,374.45 516.47,369.69 526.25,155.25 536.02,379.22 545.8,-241.86 555.57,145.72"/>
<path fill="none" stroke="#f8500e" stroke-width="1.2" d="M350.32 383.85L354.52 391.25L346.12 391.25zM389.42 381.31L393.62 388.71L385.22 388.71zM399.19 369.55L403.39 376.95L394.99 376.95zM448.06 378.45L452.26 385.85L443.86 385.85zM457.83 372.1L462.03 379.5L453.63 379.5zM487.15 369.55L491.35 376.95L482.95 376.95zM506.7 369.55L510.9 376.95L502.5 376.95zM516.47 364.79L520.67 372.19L512.27 372.19zM536.02 374.32L540.22 381.72L531.82 381.72z"/>
<rect x="329.6" y="280.1" width="216" height="176" fill="none" stroke="#6a6a6a" stroke-width="0.9"/>
<path d="M340.55 456.1v-2.5 M340.55 280.1v2.5 M389.42 456.1v-2.5 M389.42 280.1v2.5 M438.28 456.1v-2.5 M438.28 280.1v2.5 M487.15 456.1v-2.5 M487.15 280.1v2.5 M536.02 456.1v-2.5 M536.02 280.1v2.5 M329.6 447.52h2.5 M545.6 447.52h-2.5 M329.6 415.75h2.5 M545.6 415.75h-2.5 M329.6 383.98h2.5 M545.6 383.98h-2.5 M329.6 352.22h2.5 M545.6 352.22h-2.5 M329.6 320.45h2.5 M545.6 320.45h-2.5 M329.6 288.68h2.5 M545.6 288.68h-2.5" stroke="#6a6a6a" stroke-width="0.9" fill="none"/>
<text transform="translate(340.55 473) scale(0.9 1)" font-size="11.7" text-anchor="middle" fill="#1c1c1c">95</text>
<text transform="translate(389.42 473) scale(0.9 1)" font-size="11.7" text-anchor="middle" fill="#1c1c1c">100</text>
<text transform="translate(438.28 473) scale(0.9 1)" font-size="11.7" text-anchor="middle" fill="#1c1c1c">105</text>
<text transform="translate(487.15 473) scale(0.9 1)" font-size="11.7" text-anchor="middle" fill="#1c1c1c">110</text>
<text transform="translate(536.02 473) scale(0.9 1)" font-size="11.7" text-anchor="middle" fill="#1c1c1c">115</text>
<text transform="translate(326.1 451.73) scale(0.9 1)" font-size="11.7" text-anchor="end" fill="#1c1c1c">10</text>
<text transform="translate(326.1 419.97) scale(0.9 1)" font-size="11.7" text-anchor="end" fill="#1c1c1c">11</text>
<text transform="translate(326.1 388.2) scale(0.9 1)" font-size="11.7" text-anchor="end" fill="#1c1c1c">12</text>
<text transform="translate(326.1 356.43) scale(0.9 1)" font-size="11.7" text-anchor="end" fill="#1c1c1c">13</text>
<text transform="translate(326.1 324.66) scale(0.9 1)" font-size="11.7" text-anchor="end" fill="#1c1c1c">14</text>
<text transform="translate(326.1 292.89) scale(0.9 1)" font-size="11.7" text-anchor="end" fill="#1c1c1c">15</text>
<text transform="translate(436.1 276) scale(0.9 1)" font-size="13.5" text-anchor="middle" fill="#000">OSPA distance</text>
<text transform="translate(437.6 491.2) scale(0.9 1)" font-size="13.5" text-anchor="middle" fill="#1c1c1c">Time Step</text>
<rect x="329.6" y="280.1" width="77.1" height="31.3" fill="#fff" stroke="#4a4a4a" stroke-width="0.9"/>
<path d="M331.6 289.2H352.8" stroke="#0a74cc" stroke-width="1.2"/>
<path d="M331.6 303.9H352.8" stroke="#f8500e" stroke-width="1.2"/>
<circle cx="342.2" cy="289.2" r="3.55" fill="none" stroke="#0a74cc" stroke-width="1.2"/>
<path d="M342.2 299L346.4 306.4L338 306.4z" fill="none" stroke="#f8500e" stroke-width="1.2"/>
<text transform="translate(354.8 293.3) scale(0.9 1)" font-size="11.4" text-anchor="start" fill="#000">new CPHD</text>
<text transform="translate(354.8 308) scale(0.9 1)" font-size="11.4" text-anchor="start" fill="#000">trad CPHD</text>
<text x="279.6" y="254.6" font-family="'Liberation Serif',serif" font-weight="bold" font-size="12.6" text-anchor="middle" fill="#111" stroke="#111" stroke-width="0.2">(a)</text>
<text x="123.3" y="508.7" font-family="'Liberation Serif',serif" font-weight="bold" font-size="12.6" text-anchor="middle" fill="#111" stroke="#111" stroke-width="0.2">(b)</text>
<text x="432.7" y="508.9" font-family="'Liberation Serif',serif" font-weight="bold" font-size="12.6" text-anchor="middle" fill="#111" stroke="#111" stroke-width="0.2">(c)</text>
</svg>
</body></html>
